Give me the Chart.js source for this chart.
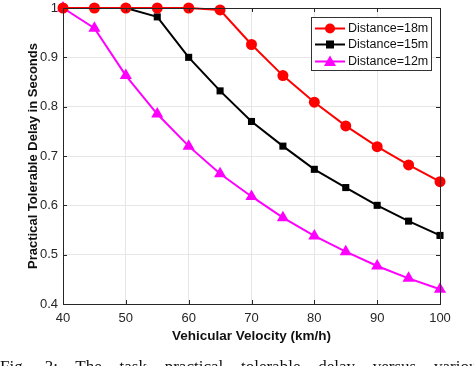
<!DOCTYPE html>
<html>
<head>
<meta charset="utf-8">
<script src="https://cdn.jsdelivr.net/npm/chart.js@4"></script>
<style>
    html, body { margin: 0; padding: 0; background: #fff; }
    #wrap { position: relative; width: 474px; height: 366px; overflow: hidden; }
    #chart { position: absolute; left: 0; top: 0; }
    #caption {
        position: absolute; left: 0; top: 357px; width: 484px;
        font-family: "Liberation Serif", "DejaVu Serif", serif;
        font-size: 17px; line-height: 20px; color: #111;
        text-align: justify; text-align-last: justify; white-space: nowrap;
    }
</style>
</head>
<body>
<div id="wrap">
    <canvas id="chart" width="474" height="366"></canvas>
    <div id="caption">Fig. 3: The task practical tolerable delay versus various</div>
</div>
<script>
// x values: vehicular velocity in km/h
const velocity = [40, 45, 50, 55, 60, 65, 70, 75, 80, 85, 90, 95, 100];

// tolerable delay (s) per distance
const delay18 = [1.000, 1.000, 1.000, 1.000, 1.000, 0.996, 0.926, 0.863, 0.809, 0.761, 0.719, 0.682, 0.648];
const delay15 = [1.000, 1.000, 1.000, 0.982, 0.900, 0.832, 0.770, 0.720, 0.673, 0.636, 0.600, 0.568, 0.539];
const delay12 = [1.000, 0.959, 0.863, 0.785, 0.720, 0.664, 0.618, 0.575, 0.538, 0.506, 0.477, 0.452, 0.430];

const xTicks = [40, 50, 60, 70, 80, 90, 100];
const yTicks = [0.4, 0.5, 0.6, 0.7, 0.8, 0.9, 1.0];

const seriesLabels = ['Distance=18m', 'Distance=15m', 'Distance=12m'];

const font = '"Liberation Sans", Arial, sans-serif';
const axisColor = '#262626';

function toPoints(ys) {
    return velocity.map((v, i) => ({ x: v, y: ys[i] }));
}

// frame, inward ticks and a MATLAB style legend
const matlabBox = {
    id: 'matlabBox',
    afterDraw(chart) {
        const ctx = chart.ctx;
        const a = chart.chartArea;
        const xs = chart.scales.x, ys = chart.scales.y;
        ctx.save();
        ctx.strokeStyle = axisColor;
        ctx.lineWidth = 1;
        ctx.beginPath();
        xTicks.forEach(t => {
            const px = Math.round(xs.getPixelForValue(t)) + 0.5;
            ctx.moveTo(px, a.bottom); ctx.lineTo(px, a.bottom - 4);
            ctx.moveTo(px, a.top); ctx.lineTo(px, a.top + 4);
        });
        yTicks.forEach(t => {
            const py = Math.round(ys.getPixelForValue(t)) + 0.5;
            ctx.moveTo(a.left, py); ctx.lineTo(a.left + 4, py);
            ctx.moveTo(a.right, py); ctx.lineTo(a.right - 4, py);
        });
        ctx.stroke();
        ctx.strokeRect(Math.round(a.left) + 0.5, Math.round(a.top) + 0.5,
            Math.round(a.right - a.left), Math.round(a.bottom - a.top));

        // legend
        const bx = 311.5, by = 17.5, bw = 120, bh = 53;
        ctx.fillStyle = '#fff';
        ctx.fillRect(bx, by, bw, bh);
        ctx.strokeStyle = '#333';
        ctx.strokeRect(bx, by, bw, bh);
        const rows = [28.5, 44.5, 61.5];
        chart.data.datasets.forEach((ds, i) => {
            const cy = rows[i];
            ctx.strokeStyle = ds.borderColor;
            ctx.lineWidth = 2;
            ctx.beginPath();
            ctx.moveTo(315, cy); ctx.lineTo(345, cy);
            ctx.stroke();
            ctx.fillStyle = ds.backgroundColor;
            ctx.beginPath();
            const cx = 330;
            if (ds.pointStyle === 'circle') {
                ctx.arc(cx, cy, 5, 0, Math.PI * 2);
            } else if (ds.pointStyle === 'rect') {
                ctx.rect(cx - 4, cy - 4, 8, 8);
            } else {
                ctx.moveTo(cx, cy - 6); ctx.lineTo(cx + 6, cy + 4.5); ctx.lineTo(cx - 6, cy + 4.5); ctx.closePath();
            }
            ctx.fill();
            ctx.fillStyle = '#111';
            ctx.font = '12.5px ' + font;
            ctx.textBaseline = 'middle';
            ctx.textAlign = 'left';
            ctx.fillText(ds.label, 348, cy + 0.5);
        });
        ctx.restore();
    }
};

new Chart(document.getElementById('chart'), {
    type: 'line',
    data: {
        datasets: [{
            label: seriesLabels[0],
            data: toPoints(delay18),
            borderColor: '#ff0000',
            backgroundColor: '#ff0000',
            borderWidth: 2,
            pointStyle: 'circle',
            pointRadius: 5.5,
            pointBorderWidth: 0
        }, {
            label: seriesLabels[1],
            data: toPoints(delay15),
            borderColor: '#000000',
            backgroundColor: '#000000',
            borderWidth: 2,
            pointStyle: 'rect',
            pointRadius: 5,
            pointBorderWidth: 0
        }, {
            label: seriesLabels[2],
            data: toPoints(delay12),
            borderColor: '#ff00ff',
            backgroundColor: '#ff00ff',
            borderWidth: 2,
            pointStyle: 'triangle',
            pointRadius: 7,
            pointBorderWidth: 0
        }]
    },
    options: {
        responsive: false,
        animation: false,
        clip: false,
        layout: { padding: { left: 22, right: 34, top: 8, bottom: 18 } },
        plugins: {
            legend: { display: false },
            tooltip: { enabled: false }
        },
        scales: {
            x: {
                type: 'linear',
                min: 40, max: 100,
                afterBuildTicks: s => { s.ticks = xTicks.map(v => ({ value: v })); },
                afterFit: s => { s.height = 44; s.paddingLeft = 0; s.paddingRight = 0; },
                grid: { color: '#e6e6e6', drawTicks: false },
                border: { display: false },
                ticks: { color: axisColor, padding: 7, font: { family: font, size: 13 } },
                title: {
                    display: true, text: 'Vehicular Velocity (km/h)', color: '#111',
                    font: { family: font, size: 13.5, weight: 'bold' }, padding: { top: 4 }
                }
            },
            y: {
                min: 0.4, max: 1.0,
                afterBuildTicks: s => { s.ticks = yTicks.map(v => ({ value: v })); },
                afterFit: s => { s.width = 41; s.paddingTop = 0; s.paddingBottom = 0; },
                grid: { color: '#e6e6e6', drawTicks: false },
                border: { display: false },
                ticks: {
                    color: axisColor, padding: 5, font: { family: font, size: 13 },
                    callback: v => String(Number(v.toFixed(1)))
                },
                title: {
                    display: true, text: 'Practical Tolerable Delay in Seconds', color: '#111',
                    font: { family: font, size: 13, weight: 'bold' }, padding: { bottom: 4 }
                }
            }
        }
    },
    plugins: [matlabBox]
});
</script>
</body>
</html>
